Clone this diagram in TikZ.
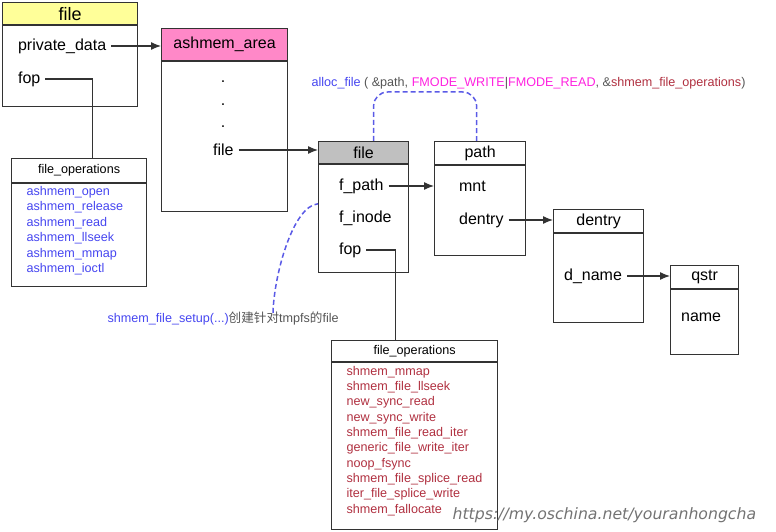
\documentclass[tikz,border=0pt]{standalone}
\usepackage{fontspec}
\setmainfont{Liberation Sans}
\newfontfamily\cjk{Noto Sans CJK SC}
\newfontfamily\wmark{DejaVu Sans}
\usetikzlibrary{arrows.meta}
\definecolor{boxline}{HTML}{333333}
\definecolor{hdyellow}{HTML}{FFFF99}
\definecolor{hdpink}{HTML}{FF88C8}
\definecolor{hdgray}{HTML}{C0C0C0}
\definecolor{opblue}{HTML}{4646F0}
\definecolor{opred}{HTML}{B03040}
\definecolor{fmode}{HTML}{FF22E0}
\definecolor{txtgray}{HTML}{555555}
\definecolor{dashblue}{HTML}{5A5AE6}
\newcommand\bigf{\fontsize{16}{19}\selectfont}
\newcommand\smallf{\fontsize{12.6}{15.4}\selectfont}
\tikzset{every picture/.style={line width=1.2pt}}

\begin{document}
\begin{tikzpicture}[x=1pt,y=1pt,yscale=-1,xscale=1,
  head/.style={draw=boxline, anchor=north west, inner sep=0pt, font=\bigf},
  body/.style={draw=boxline, anchor=north west, inner sep=0pt},
  field/.style={anchor=west, inner sep=1.5pt, font=\bigf},
  opitem/.style={anchor=west, inner sep=0pt, font=\smallf},
  ptr/.style={draw=boxline, shorten <=3pt, -{Latex[length=10pt,width=8pt]}},
  link/.style={draw=boxline, shorten <=3pt},
  call/.style={draw=dashblue, line width=1.5pt, dash pattern=on 5pt off 3pt}]
\useasboundingbox (0,0) rectangle (776,532);

% file (ashmem)
\node[head, fill=hdyellow, minimum width=135pt, minimum height=22pt, font=\fontsize{18}{21}\selectfont] (filehd) at (2,2) {file};
\node[body, minimum width=135pt, minimum height=81pt] (filebd) at (filehd.south west) {};
\node[field] (privdata) at (16,46) {private\_data};
\node[field] (fopa) at (16,79) {fop};

% file_operations of ashmem
\node[head, minimum width=135pt, minimum height=24pt, font=\smallf] (opsahd) at (11,158) {file\_operations};
\node[body, minimum width=135pt, minimum height=103pt] (opsabd) at (opsahd.south west) {};
\foreach \op [count=\k] in {ashmem\_open, ashmem\_release, ashmem\_read, ashmem\_llseek, ashmem\_mmap, ashmem\_ioctl}
  \node[opitem, text=opblue] (opa\k) at (26,176.5+15.5*\k) {\op};

% ashmem_area
\node[head, fill=hdpink, minimum width=126pt, minimum height=32pt] (areahd) at (161,28) {ashmem\_area};
\node[body, minimum width=126pt, minimum height=150pt] (areabd) at (areahd.south west) {};
\foreach \y [count=\k] in {82,105,127}
  \node[inner sep=0pt, font=\bigf] (areadot\k) at (223,\y) {.};
\node[field] (areafile) at (211,150) {file};

% file (tmpfs)
\node[head, fill=hdgray, minimum width=90pt, minimum height=22pt] (tfilehd) at (318,141) {file};
\node[body, minimum width=90pt, minimum height=108pt] (tfilebd) at (tfilehd.south west) {};
\node[field] (fpath) at (337,186) {f\_path};
\node[field] (finode) at (337,218) {f\_inode};
\node[field] (fopb) at (337,250) {fop};

% path
\node[head, minimum width=91pt, minimum height=23pt] (pathhd) at (434,141) {path};
\node[body, minimum width=91pt, minimum height=90pt] (pathbd) at (pathhd.south west) {};
\node[field] (mnt) at (457,186) {mnt};
\node[field] (pdentry) at (457,220) {dentry};

% dentry
\node[head, minimum width=90pt, minimum height=23pt] (dentryhd) at (553,209) {dentry};
\node[body, minimum width=90pt, minimum height=89pt] (dentrybd) at (dentryhd.south west) {};
\node[field] (dname) at (562,276) {d\_name};

% qstr
\node[head, minimum width=68pt, minimum height=23pt] (qstrhd) at (670,265) {qstr};
\node[body, minimum width=68pt, minimum height=65pt] (qstrbd) at (qstrhd.south west) {};
\node[field] (qname) at (679,317) {name};

% file_operations of shmem
\node[head, minimum width=166pt, minimum height=21pt, font=\smallf] (opsbhd) at (331,340) {file\_operations};
\node[body, minimum width=166pt, minimum height=167pt] (opsbbd) at (opsbhd.south west) {};
\foreach \op [count=\k] in {shmem\_mmap, shmem\_file\_llseek, new\_sync\_read, new\_sync\_write, shmem\_file\_read\_iter, generic\_file\_write\_iter, noop\_fsync, shmem\_file\_splice\_read, iter\_file\_splice\_write, shmem\_fallocate}
  \node[opitem, text=opred] (opb\k) at (346,356.7+15.3*\k) {\op};

% pointers
\draw[ptr] (privdata.east) -- (privdata.east -| areahd.west);
\draw[link] (fopa.east) -| ([xshift=13.5pt]opsahd.north);
\draw[ptr] (areafile.east) -- (areafile.east -| tfilehd.west);
\draw[ptr] (fpath.east) -- (fpath.east -| pathbd.west);
\draw[link] (fopb.east) -| ([xshift=-19pt]opsbhd.north);
\draw[ptr] (pdentry.east) -- (pdentry.east -| dentryhd.west);
\draw[ptr] (dname.east) -- (dname.east -| qstrhd.west);

% calls
\node[anchor=west, inner sep=0pt, font=\smallf, text=txtgray] (alloc) at (311,83)
  {{\color{opblue}alloc\_file} ( \&path, {\color{fmode}FMODE\_WRITE}|{\color{fmode}FMODE\_READ}, \&{\color{opred}shmem\_file\_operations})};
\draw[call, rounded corners=14pt] ([xshift=10pt]tfilehd.north) -- ++(0,-49) -| ([xshift=-3.5pt]pathhd.north);
\node[anchor=west, inner sep=0pt, font=\smallf, text=txtgray] (setup) at (107,318)
  {{\color{opblue}shmem\_file\_setup(...)}{\cjk 创建针对}tmpfs{\cjk 的}file};
\draw[call] ([xshift=166pt,yshift=2pt]setup.north west) .. controls ++(1,-38) and ++(-25,2) .. ([yshift=-15pt]tfilebd.west);

% watermark
\node[anchor=west, inner sep=0pt, font=\wmark\itshape\fontsize{15.7}{18}\selectfont, text=black!55] (wmark) at (452,515) {https://my.oschina.net/youranhongcha};
\end{tikzpicture}
\end{document}
